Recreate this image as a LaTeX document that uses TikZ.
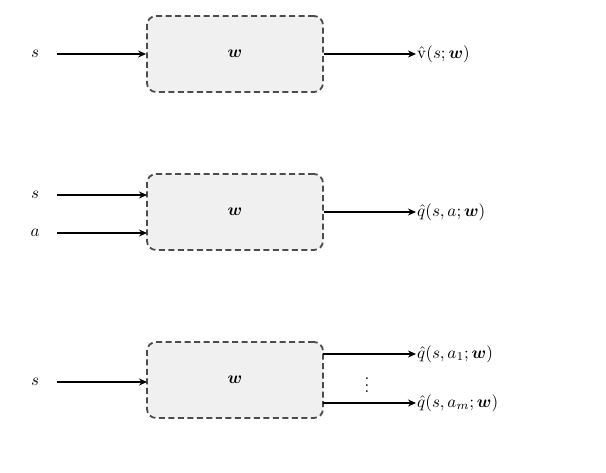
\documentclass[tikz,border=0pt]{standalone}
\usepackage{amsmath,bm}
\usetikzlibrary{arrows.meta}
\newcommand{\Lg}[1]{\scalebox{1.7}{$#1$}}
\begin{document}
\begin{tikzpicture}[x=1pt,y=-1pt,
  box/.style={draw=black!70,line width=1.8pt,dash pattern=on 6pt off 3.5pt,fill=black!6,rounded corners=9pt,minimum width=176pt,minimum height=76pt},
  lab/.style={inner sep=1pt},
  arr/.style={-{Stealth[length=8pt,width=7pt]},line width=1.4pt}]
\useasboundingbox (0,0) rectangle (606,472);
\node[box] (b1) at (235,54) {\Lg{\bm{w}}};
\node[box] (b2) at (235,212) {\Lg{\bm{w}}};
\node[box] (b3) at (235,380) {\Lg{\bm{w}}};
% row 1
\node[lab] (s1) at (35,54) {\Lg{s}};
\node[lab,anchor=west] (o1) at (416,54) {\Lg{\hat{\mathrm{v}}(s;\bm{w})}};
\coordinate (ss1) at (57,54);
\draw[arr] (ss1) -- (b1.west);
\draw[arr] (b1.east) -- (o1.west);
% row 2
\node[lab] (s2) at (35,195) {\Lg{s}};
\node[lab] (a2) at (35,233) {\Lg{a}};
\coordinate (bs2) at (147,195);
\coordinate (ba2) at (147,233);
\coordinate (ss2) at (57,195);
\coordinate (sa2) at (57,233);
\draw[arr] (ss2) -- (bs2);
\draw[arr] (sa2) -- (ba2);
\node[lab,anchor=west] (o2) at (416,212) {\Lg{\hat{q}(s,a;\bm{w})}};
\draw[arr] (b2.east) -- (o2.west);
% row 3
\node[lab] (s3) at (35,382) {\Lg{s}};
\coordinate (ss3) at (57,382);
\coordinate (bs3) at (147,382);
\draw[arr] (ss3) -- (bs3);
\node[lab,anchor=west] (o3a) at (416,354) {\Lg{\hat{q}(s,a_1;\bm{w})}};
\node[lab,anchor=west] (o3b) at (416,403) {\Lg{\hat{q}(s,a_m;\bm{w})}};
\coordinate (e3a) at (323,354);
\coordinate (e3b) at (323,403);
\draw[arr] (e3a) -- (o3a.west);
\draw[arr] (e3b) -- (o3b.west);
\node[lab] (dots) at (367,380) {\Lg{\vdots}};
\end{tikzpicture}
\end{document}
